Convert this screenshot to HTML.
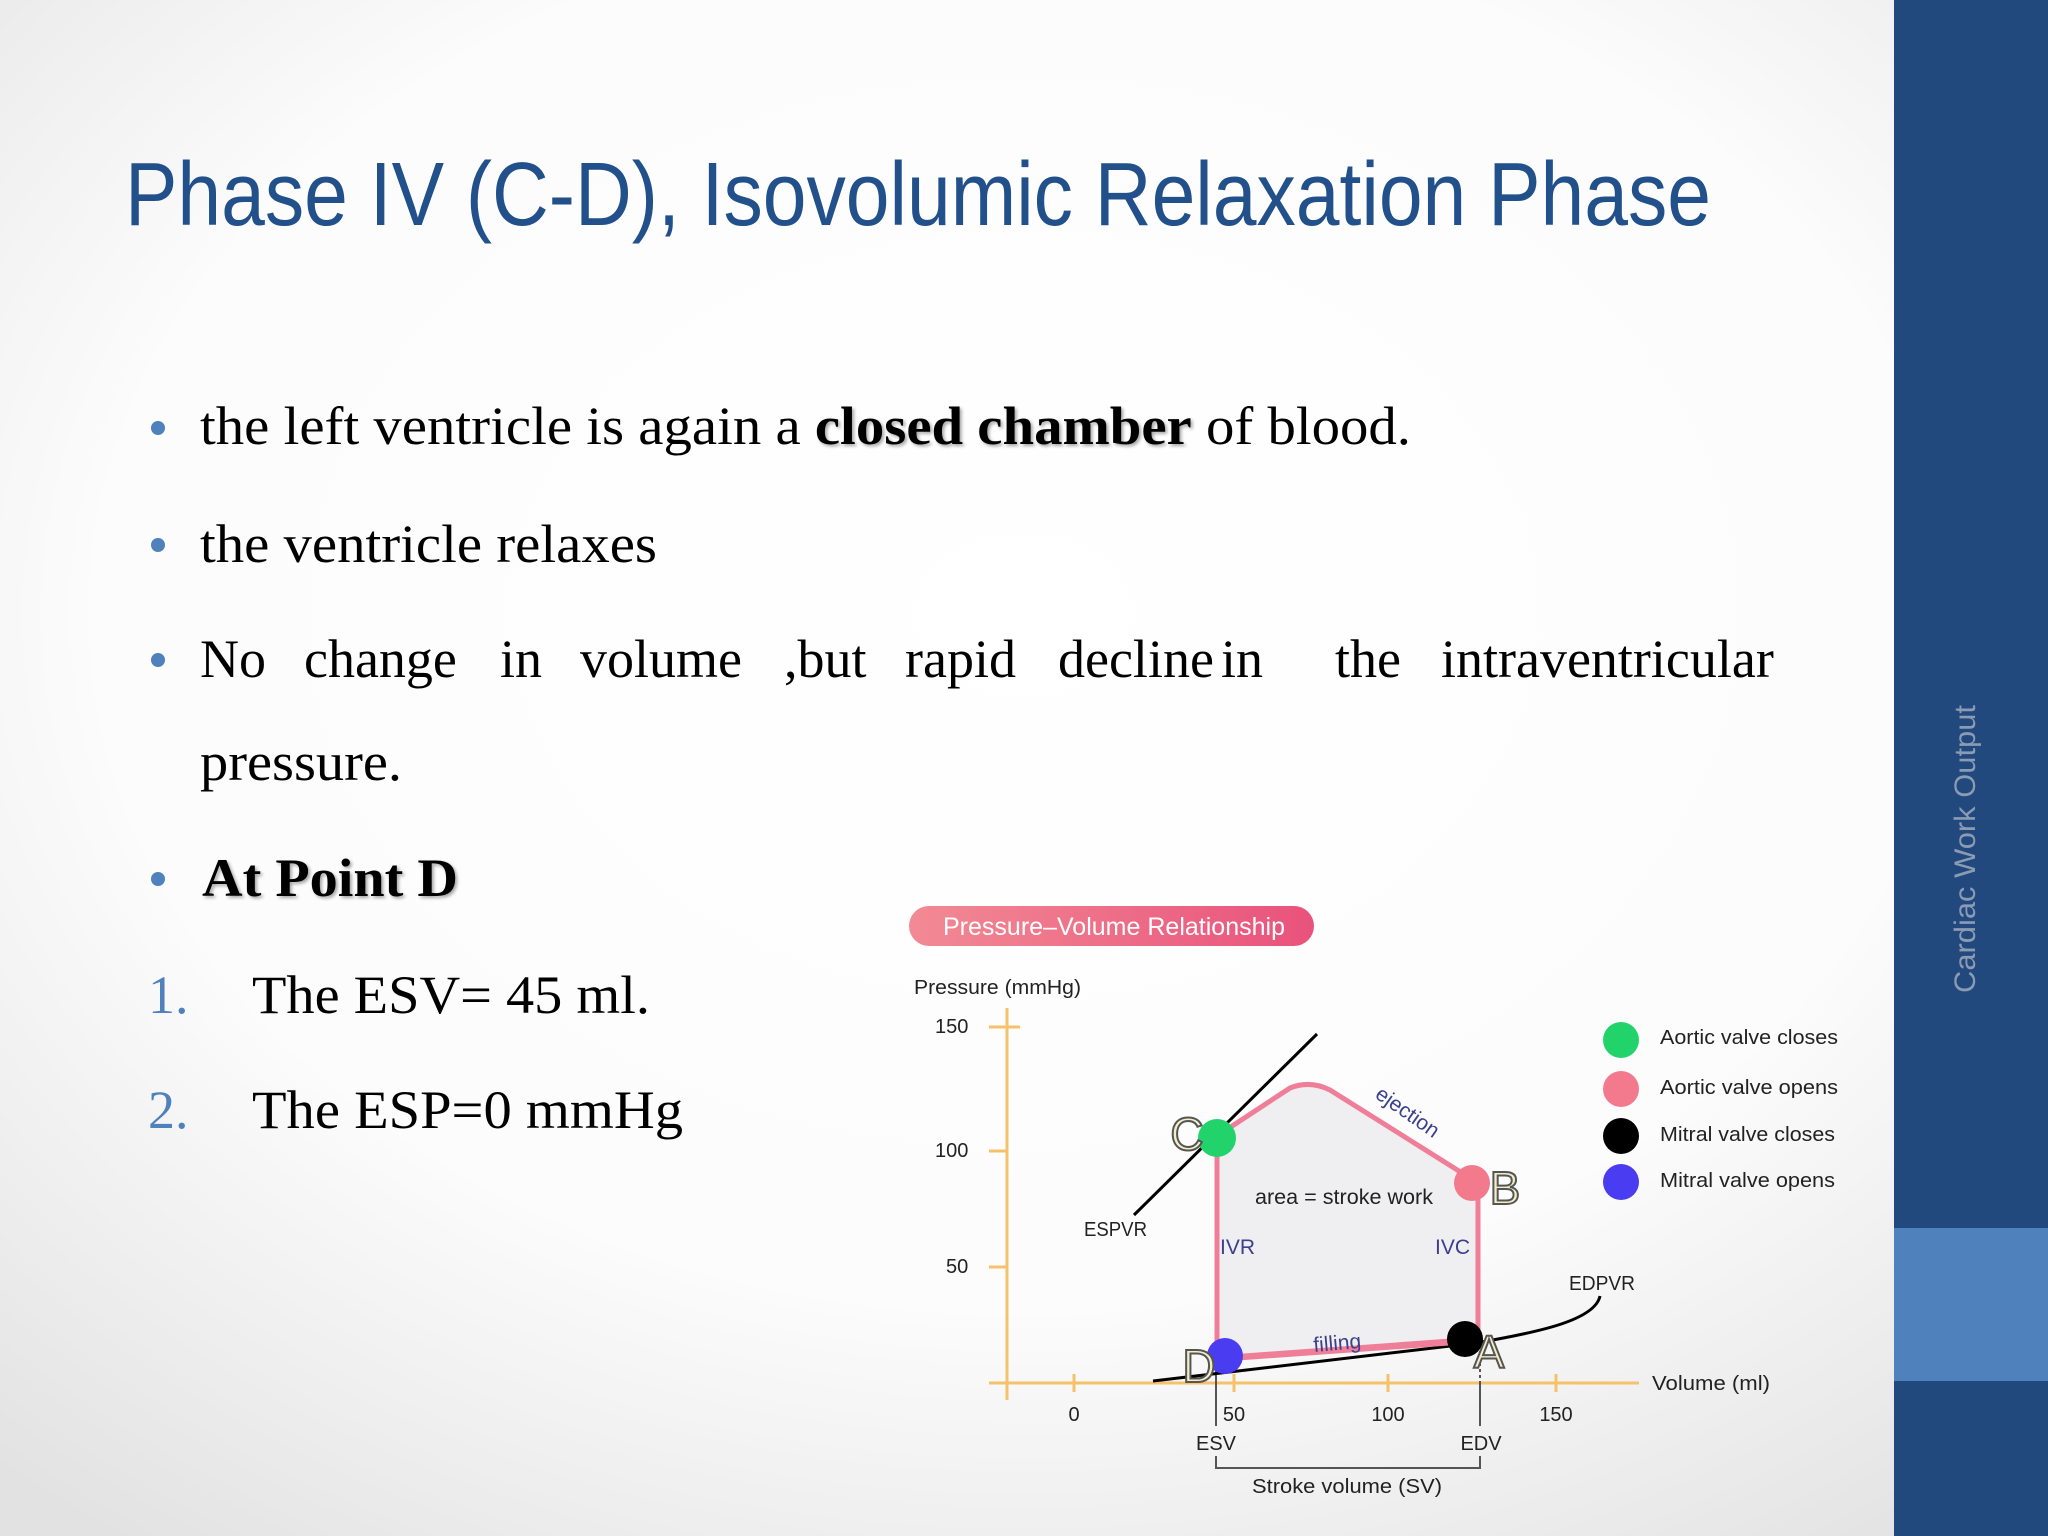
<!DOCTYPE html>
<html><head><meta charset="utf-8"><style>
html,body{margin:0;padding:0;width:2048px;height:1536px;overflow:hidden;}
svg{display:block}
</style></head><body>
<svg width="2048" height="1536" viewBox="0 0 2048 1536" xmlns="http://www.w3.org/2000/svg">
<defs>
<radialGradient id="bg" cx="0.5" cy="0.4" r="0.75">
<stop offset="0" stop-color="#ffffff"/><stop offset="0.6" stop-color="#fcfcfc"/><stop offset="1" stop-color="#e2e2e2"/>
</radialGradient>
<linearGradient id="pill" x1="0" x2="1" y1="0" y2="0">
<stop offset="0" stop-color="#f28a94"/><stop offset="1" stop-color="#e9527c"/>
</linearGradient>
<filter id="sh"><feDropShadow dx="2" dy="2" stdDeviation="1.5" flood-color="#000" flood-opacity="0.35"/></filter>
</defs>
<rect width="2048" height="1536" fill="url(#bg)"/>
<rect x="1894" y="0" width="154" height="1536" fill="#21497d"/>
<rect x="1894" y="1228" width="154" height="153" fill="#4f81bd"/>
<text transform="translate(1975,849) rotate(-90)" text-anchor="middle" font-family="Liberation Sans, sans-serif" font-size="30" fill="#8a9bb3" textLength="288" lengthAdjust="spacingAndGlyphs">Cardiac Work Output</text>

<text x="125" y="225" font-family="Liberation Sans, sans-serif" font-size="90" fill="#21508a" textLength="1586" lengthAdjust="spacingAndGlyphs">Phase IV (C-D), Isovolumic Relaxation Phase</text>

<g font-family="Liberation Serif, serif" font-size="54" fill="#000">
<circle cx="158" cy="428" r="7" fill="#4f81bd"/>
<text x="200" y="444" textLength="1211" lengthAdjust="spacingAndGlyphs">the left ventricle is again a <tspan font-weight="bold" filter="url(#sh)">closed chamber</tspan> of blood.</text>
<circle cx="158" cy="545" r="7" fill="#4f81bd"/>
<text x="200" y="562" textLength="457" lengthAdjust="spacingAndGlyphs">the ventricle relaxes</text>
<circle cx="158" cy="660" r="7" fill="#4f81bd"/>
<text y="677"><tspan x="200">No</tspan> <tspan x="304">change</tspan> <tspan x="500">in</tspan> <tspan x="580">volume</tspan> <tspan x="784">,but</tspan> <tspan x="905">rapid</tspan> <tspan x="1058">decline</tspan> <tspan x="1221">in</tspan> <tspan x="1335">the</tspan> <tspan x="1441">intraventricular</tspan></text>
<text x="200" y="780" textLength="202" lengthAdjust="spacingAndGlyphs">pressure.</text>
<circle cx="158" cy="879" r="7" fill="#4f81bd"/>
<text x="202" y="896" font-weight="bold" filter="url(#sh)" textLength="256" lengthAdjust="spacingAndGlyphs">At Point D</text>
<text x="148" y="1013" fill="#4f81bd">1.</text>
<text x="252" y="1013" textLength="398" lengthAdjust="spacingAndGlyphs">The ESV= 45 ml.</text>
<text x="148" y="1128" fill="#4f81bd">2.</text>
<text x="252" y="1128" textLength="431" lengthAdjust="spacingAndGlyphs">The ESP=0 mmHg</text>
</g>

<!-- diagram -->
<rect x="909" y="906" width="405" height="40" rx="20" fill="url(#pill)"/>
<text x="943" y="935" font-family="Liberation Sans, sans-serif" font-size="25" fill="#fff" textLength="342" lengthAdjust="spacingAndGlyphs">Pressure–Volume Relationship</text>
<g font-family="Liberation Sans, sans-serif" font-size="20" fill="#222">
<text x="914" y="994" textLength="167" lengthAdjust="spacingAndGlyphs">Pressure (mmHg)</text>
<text x="935" y="1033">150</text>
<text x="935" y="1157">100</text>
<text x="946" y="1273">50</text>
<text x="1074" y="1421" text-anchor="middle">0</text>
<text x="1234" y="1421" text-anchor="middle">50</text>
<text x="1388" y="1421" text-anchor="middle">100</text>
<text x="1556" y="1421" text-anchor="middle">150</text>
<text x="1652" y="1390" textLength="118" lengthAdjust="spacingAndGlyphs">Volume (ml)</text>
<text x="1216" y="1450" text-anchor="middle">ESV</text>
<text x="1481" y="1450" text-anchor="middle">EDV</text>
<text x="1347" y="1493" text-anchor="middle" textLength="190" lengthAdjust="spacingAndGlyphs">Stroke volume (SV)</text>
<text x="1084" y="1236" textLength="63" lengthAdjust="spacingAndGlyphs">ESPVR</text>
<text x="1569" y="1290" textLength="66" lengthAdjust="spacingAndGlyphs">EDPVR</text>
<text x="1660" y="1044" textLength="178" lengthAdjust="spacingAndGlyphs">Aortic valve closes</text>
<text x="1660" y="1094" textLength="178" lengthAdjust="spacingAndGlyphs">Aortic valve opens</text>
<text x="1660" y="1141" textLength="175" lengthAdjust="spacingAndGlyphs">Mitral valve closes</text>
<text x="1660" y="1187" textLength="175" lengthAdjust="spacingAndGlyphs">Mitral valve opens</text>
</g>
<g stroke="#f5c26b" stroke-width="3" fill="none">
<line x1="1007" y1="1008" x2="1007" y2="1400"/>
<line x1="989" y1="1383" x2="1639" y2="1383"/>
<line x1="989" y1="1027" x2="1020" y2="1027"/>
<line x1="989" y1="1151" x2="1007" y2="1151"/>
<line x1="989" y1="1267" x2="1007" y2="1267"/>
<line x1="1074" y1="1374" x2="1074" y2="1392"/>
<line x1="1234" y1="1374" x2="1234" y2="1392"/>
<line x1="1388" y1="1374" x2="1388" y2="1392"/>
<line x1="1556" y1="1374" x2="1556" y2="1392"/>
</g>
<g stroke="#555" stroke-width="2" fill="none">
<line x1="1216" y1="1358" x2="1216" y2="1426"/>
<line x1="1480" y1="1345" x2="1480" y2="1383" stroke-dasharray="3,3"/>
<line x1="1480" y1="1383" x2="1480" y2="1426"/>
<polyline points="1216,1456 1216,1468 1480,1468 1480,1456"/>
</g>
<path d="M1217,1136 L1217,1358 L1478,1339 L1478,1183 L1330,1090 Q1310,1080 1290,1088 L1217,1136 Z" fill="#efeef1" stroke="#ef7f99" stroke-width="5" stroke-linejoin="round"/>
<line x1="1134" y1="1215" x2="1317" y2="1034" stroke="#000" stroke-width="3"/>
<path d="M1153,1381 L1476,1343 C1540,1332 1595,1320 1600,1296" stroke="#000" stroke-width="3" fill="none"/>
<line x1="1217" y1="1360" x2="1470" y2="1342" stroke="#ef7f99" stroke-width="4"/>
<g font-family="Liberation Sans, sans-serif" font-size="21" fill="#3b3f8c">
<text x="1255" y="1204" fill="#222" textLength="178" lengthAdjust="spacingAndGlyphs">area = stroke work</text>
<text x="1220" y="1254">IVR</text>
<text x="1435" y="1254">IVC</text>
<text transform="translate(1314,1352) rotate(-5)">filling</text>
<text transform="translate(1374,1097) rotate(35)">ejection</text>
</g>
<circle cx="1217" cy="1138" r="19" fill="#22d36b"/>
<circle cx="1472" cy="1183" r="18" fill="#f27a8c"/>
<circle cx="1465" cy="1339" r="18" fill="#000"/>
<circle cx="1225" cy="1356" r="18" fill="#4a3cf0"/>
<g font-family="Liberation Sans, sans-serif" font-size="46" fill="#f3eec6" stroke="#555" stroke-width="2" text-anchor="middle">
<text x="1187" y="1150">C</text>
<text x="1505" y="1204">B</text>
<text x="1489" y="1368">A</text>
<text x="1199" y="1382">D</text>
</g>
<circle cx="1621" cy="1040" r="18" fill="#22d36b"/>
<circle cx="1621" cy="1089" r="18" fill="#f27a8c"/>
<circle cx="1621" cy="1136" r="18" fill="#000"/>
<circle cx="1621" cy="1182" r="18" fill="#4a3cf0"/>
</svg>
</body></html>
